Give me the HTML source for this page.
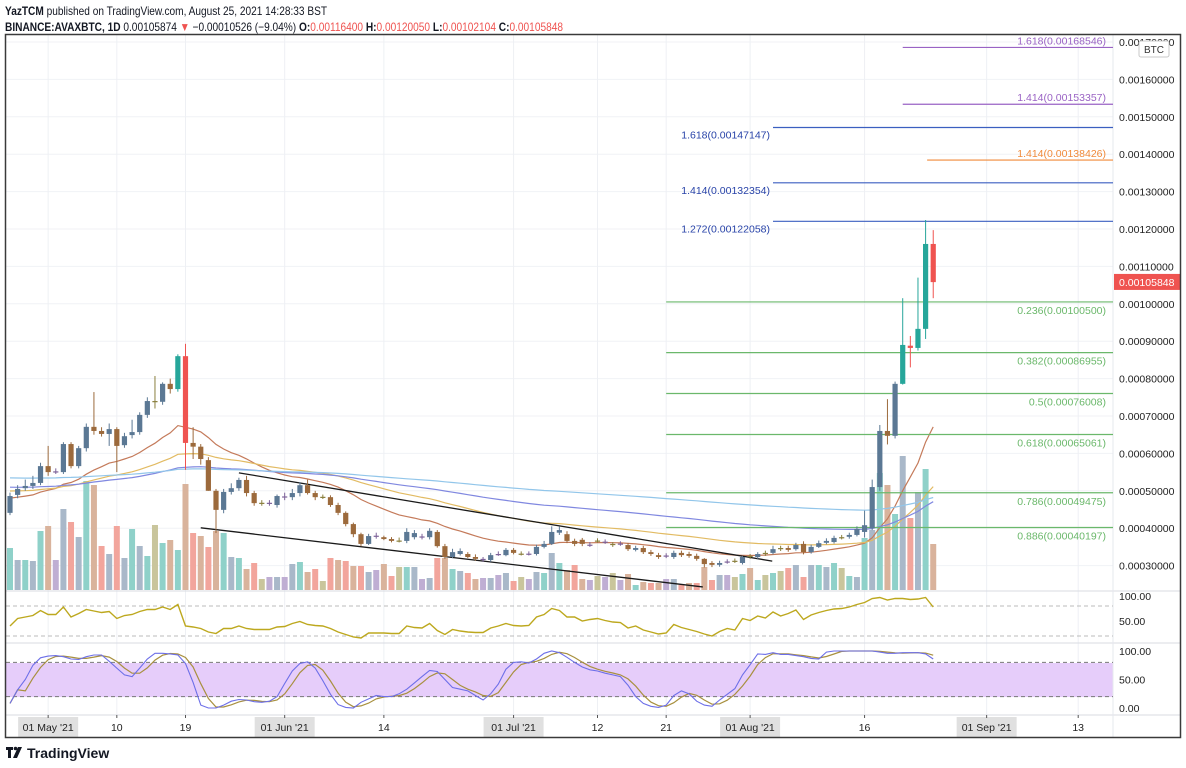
<!DOCTYPE html>
<html><head><meta charset="utf-8">
<style>
html,body{margin:0;padding:0;background:#fff;}
svg{display:block;font-family:"Liberation Sans",sans-serif;}
</style></head>
<body>
<svg id="chart" width="1186" height="768" viewBox="0 0 1186 768" xmlns="http://www.w3.org/2000/svg">
  <rect x="0" y="0" width="1186" height="768" fill="#ffffff"/>
  <text x="5" y="15" font-size="12" fill="#131722" textLength="322" lengthAdjust="spacingAndGlyphs"><tspan font-weight="bold">YazTCM</tspan> published on TradingView.com, August 25, 2021 14:28:33 BST</text>
  <text x="5" y="31" font-size="12" fill="#131722" textLength="558" lengthAdjust="spacingAndGlyphs"><tspan font-weight="bold">BINANCE:AVAXBTC, 1D</tspan> 0.00105874 <tspan fill="#ef5350">▼</tspan> −0.00010526 (−9.04%) <tspan font-weight="bold">O:</tspan><tspan fill="#ef5350">0.00116400</tspan> <tspan font-weight="bold">H:</tspan><tspan fill="#ef5350">0.00120050</tspan> <tspan font-weight="bold">L:</tspan><tspan fill="#ef5350">0.00102104</tspan> <tspan font-weight="bold">C:</tspan><tspan fill="#ef5350">0.00105848</tspan></text>
  <g id="grid"></g>
  <rect x="5" y="663" width="1108" height="34" fill="#e6cdfa"/>
  <g id="panes"></g>
  <g id="volume"></g>
  <g id="mas"></g>
  <g id="fibs"></g>
  <g id="trend"></g>
  <g id="candles"></g>
  <g id="osc"></g>
  <g id="axes"></g>
  <rect x="5.5" y="34.5" width="1175" height="703" fill="none" stroke="#3a3a3a" stroke-width="1.5"/>
  <g>
    <rect x="6" y="747" width="7" height="3" fill="#131722"/>
    <rect x="8" y="747" width="3" height="11" fill="#131722"/>
    <circle cx="15.5" cy="748.5" r="1.8" fill="#131722"/>
    <polygon points="18,747 22,747 17,758 13,758" fill="#131722"/>
    <text x="27" y="758" font-size="14" font-weight="bold" fill="#131722">TradingView</text>
  </g>
</svg>
<script>
// ---- data (price in units of 1e-5 BTC) ----
const opens = [44.1,48.9,50.7,51.3,52.1,56.6,55.0,55.0,62.5,56.6,61.4,67.1,66.0,65.2,66.5,62.2,64.9,65.7,70.3,73.8,73.8,78.6,77.2,86.0,62.8,61.8,58.2,50.0,44.9,49.7,50.7,52.9,49.4,46.7,46.7,46.2,48.3,48.3,49.4,51.5,49.4,48.3,48.3,46.2,44.1,41.1,38.4,35.8,37.9,37.6,37.1,36.6,36.6,37.6,37.7,37.6,39.0,35.2,32.3,33.1,33.1,32.3,31.8,31.5,33.0,32.8,34.2,33.1,33.1,33.1,35.0,35.8,38.8,38.4,36.6,36.9,35.5,36.6,36.3,35.8,35.8,35.5,34.2,34.7,33.6,32.8,32.6,32.3,33.4,33.1,32.6,31.8,30.7,30.2,31.0,31.2,30.7,32.6,32.3,33.1,33.4,34.7,34.7,34.4,35.8,33.6,35.0,36.1,36.3,37.4,37.7,38.2,39.0,40.0,51.0,66.0,64.7,78.6,88.8,88.2,93.3,116.0];
const closes = [48.6,50.5,51.3,52.1,56.6,55.0,55.2,62.5,56.6,61.4,67.1,66.0,65.2,66.5,62.0,64.6,65.7,70.3,74.0,74.0,78.6,77.2,86.0,62.8,61.8,58.5,50.0,44.9,49.7,50.7,52.9,49.4,46.7,46.8,46.8,48.6,48.5,49.4,51.5,49.4,48.3,48.4,46.2,44.1,41.1,38.4,35.8,37.9,38.0,37.1,36.6,36.7,39.0,38.7,37.8,39.3,35.2,32.3,33.6,33.9,32.3,31.8,31.5,32.8,33.1,34.2,33.4,33.2,33.2,35.0,35.8,39.0,39.5,36.6,35.8,35.8,35.6,36.7,36.4,35.5,35.9,34.4,34.7,33.6,33.1,32.3,32.7,33.4,32.8,32.6,31.8,30.4,30.2,30.7,31.1,31.3,32.3,32.3,33.1,33.4,34.4,34.5,34.2,35.5,33.6,35.0,36.0,36.6,37.4,37.6,38.2,39.8,40.8,51.0,66.0,64.7,78.6,89.0,88.2,93.3,116.0,105.8];
const highs = [49.5,51.5,53,54,57.5,62,56,63,63,62,68,76.4,67,68,67,65.5,69,71,75,80.7,79,80,86.5,89.3,67,62.5,59,50.5,50.5,52,53.5,54,50,47.5,47.5,49,49.5,50.5,52.3,53,50,49,48.8,46.8,44.5,41.5,38.8,38.5,38.8,38,37.6,37.5,40,39.5,38.5,40,39.5,35.8,34.5,34.6,33.6,33,32.3,33.4,33.8,34.7,34.7,33.8,33.8,35.6,36.6,40.5,40.4,39.2,37.2,37.4,36.3,37.3,37,36.3,36.5,36,35.3,35.3,34.2,33.4,33.3,34,34,33.7,33.2,32,31.2,31.3,31.7,31.9,32.6,33.1,33.6,34,35.3,35.3,35.3,36.1,36.5,35.6,36.7,37.3,38,38.2,38.8,40.5,44.7,53,67.6,74.5,79.2,101.5,91.4,107,122.4,119.7];
const lows = [43.5,48,50,50.5,51.5,54,54.5,54.5,56,56,60.5,65,64.5,62,55,61.5,64,65,69.5,72,73,76,76.5,55.6,58.5,57,50,38.7,44,49,50,48.5,46,46,46,45.5,47.5,47.5,48.5,49,47.5,47.8,45.7,43.5,40.5,37.6,35.2,35.5,37.2,36.8,36.2,36.2,36,37,37,37,34.8,31.8,32,32.7,32,31.3,31,31,32.6,32.5,33,32.7,32.7,32.7,34.6,35.5,38.2,36,35.2,35.2,35,36.1,35.8,35,35.3,33.9,33.8,33.1,32.6,31.8,32,31.8,32.3,32.1,31.3,29.5,29.6,29.7,30.5,30.7,30.3,31.8,31.8,32.6,33,33.9,33.7,34,33,33.2,34.7,35.7,35.9,37,37.2,37.8,37.5,39.5,50,62.4,64,78.4,83,87.5,90.6,101.5];
const volumes = [42,30,30,29,59,64,30,81,68,53,109,105,44,36,64,32,61,44,34,65,47,50,40,106,57,54,43,59,57,33,32,21,27,11,13,13,13,26,28,18,21,9,32,30,29,24,24,18,20,26,14,23,23,23,11,12,32,32,21,19,17,11,12,12,15,17,9,13,11,18,17,37,27,20,25,11,10,14,13,17,10,16,5,8,7,7,11,11,5,7,7,23,10,15,15,13,16,22,10,15,17,19,22,25,13,25,25,23,27,22,14,13,52,60,117,105,76,134,72,98,121,46];
const rsiValues = [40,55,58,61,71,63,63,78,58,65,73,70,67,69,55,61,63,69,73,73,78,73,83,40,38,35,28,25,35,35,40,35,33,33,33,38,39,45,49,43,41,40,35,28,23,18,16,26,26,26,25,25,40,37,36,45,31,23,33,30,28,27,27,36,40,45,41,40,41,58,63,75,71,58,58,50,53,55,51,48,47,36,40,32,28,24,26,43,37,33,29,24,20,29,35,32,55,51,60,56,68,60,65,72,53,62,67,71,74,75,78,83,87,95,97,92,95,95,93,94,97,78];
const stochK = [8,32,50,75,88,91,92,90,86,85,90,93,93,82,70,58,55,70,86,96,96,95,93,78,45,5,0,0,5,12,15,14,11,10,12,20,43,65,78,81,70,48,24,6,1,0,10,16,22,20,20,25,33,44,55,66,64,50,36,33,30,22,14,25,42,68,80,81,79,86,96,100,97,89,80,72,67,65,61,58,55,40,20,8,3,1,5,22,30,25,12,5,3,14,24,34,58,76,95,94,97,94,94,92,90,87,86,98,100,100,100,100,100,100,98,96,96,97,97,97,95,86];
const priceTicks = [30,40,50,60,70,80,90,100,110,120,130,140,150,160,170];
const priceTickLabels = ["0.00030000","0.00040000","0.00050000","0.00060000","0.00070000","0.00080000","0.00090000","0.00100000","0.00110000","0.00120000","0.00130000","0.00140000","0.00150000","0.00160000","0.00170000"];
const timeTickIdx = [5,14,23,36,49,66,77,86,97,112,128,140];
const timeTickLabels = ["01 May '21","10","19","01 Jun '21","14","01 Jul '21","12","21","01 Aug '21","16","01 Sep '21","13"];
const fibRatios = ["0.236","0.382","0.5","0.618","0.786","0.886","1.272","1.414","1.618","1.414","1.414","1.618"];
const fibValues = [100.500,86.955,76.008,65.061,49.475,40.197,122.058,132.354,147.147,138.426,153.357,168.546];
const fibGroups = ["g","g","g","g","g","g","b","b","b","o","p","p"];
const fibStartIdx = [86,86,86,86,86,86,100,100,100,120.2,117,117];
const upperTrend = [[30,54.8],[99.9,31.2]];
const lowerTrend = [[25,40.1],[90.8,24.3]];
const emaPeriods = [20,50,100,200];
const emaSeeds = [48,50,51,53.5];
const lastPrice = 105.848;

// ---- axis functions ----
const NS = "http://www.w3.org/2000/svg";
function xAt(i){ return 10 + i*7.63; }
function py(v){ return 229 + (120 - v)*3.74; }
function ry(v){ return 621 - (v-50)*0.5; }
function sy(v){ return 708 - v*0.57; }
function vy(v){ return 590 - v; }
function mk(tag, attrs, parent){ const e=document.createElementNS(NS,tag); for(const k in attrs) e.setAttribute(k,attrs[k]); parent.appendChild(e); return e; }
const G = id=>document.getElementById(id);
const RIGHT = 1113;

// grid
const grid = G('grid');
priceTicks.forEach((t,k)=>{
  const l = mk('line',{x1:6,x2:RIGHT,y1:py(t),y2:py(t),stroke:'#f0f2f6','stroke-width':1},grid);
  
  
});
timeTickIdx.forEach(i=>{
  const l = mk('line',{x1:xAt(i),x2:xAt(i),y1:35,y2:715,stroke:'#eef0f4','stroke-width':1},grid);
  
  
});
[596,621,646].forEach(y=>{});

// panes
const panes = G('panes');
[[591,'rsi-pane-separator'],[643,'stoch-pane-separator'],[715,'time-axis-line']].forEach(([y,n])=>{
  const l = mk('line',{x1:6,x2:1180,y1:y,y2:y,stroke:'#d8dbe2','stroke-width':1},panes);
  
  
});
const sep = mk('line',{x1:RIGHT,x2:RIGHT,y1:35,y2:737,stroke:'#e6e8ee','stroke-width':1},panes);


[[ry(80)],[ry(20)],[sy(80)],[sy(20)]].forEach(([y],k)=>{
  const l = mk('line',{x1:6,x2:RIGHT,y1:y,y2:y,stroke:k<2?'#bbbbbb':'#777777','stroke-width':1,'stroke-dasharray':'4,3'},panes);
  
  
});

// volume
const vol = G('volume');
volumes.forEach((v,i)=>{
  const bull = closes[i] > opens[i] + 0.3, bear = closes[i] < opens[i] - 0.3;
  const pal = bull ? ['#8fd1c9','#a9b8c9'] : bear ? ['#f2a59c','#d9b39c'] : ['#bfaed3','#c9c59c'];
  const r = mk('rect',{x:xAt(i)-3,y:vy(v),width:6,height:v,fill:pal[i%2]},vol);
  
  
});

// EMAs
const mas = G('mas');
const emaColors = ['#c47a5a','#e2bb63','#8088e0','#92c6ea'];
const emaNames = ['ema-20-line','ema-50-line','ema-100-line','ema-200-line'];
emaPeriods.forEach((p,k)=>{
  let e = emaSeeds[k], pts=[];
  const a = 2/(p+1);
  closes.forEach((c,i)=>{ e = e + (c-e)*a; pts.push(xAt(i).toFixed(1)+','+py(e).toFixed(1)); });
  const pl = mk('polyline',{points:pts.join(' '),fill:'none',stroke:emaColors[k],'stroke-width':1.2},mas);
  
  
});

// fibs
const fibs = G('fibs');
const fibCol = {g:'#6bb86b',b:'#3b5fc0',o:'#f08a3a',p:'#9a63c4'};
fibValues.forEach((v,k)=>{
  const y = py(v), g = fibGroups[k], x0 = xAt(fibStartIdx[k]);
  const l = mk('line',{x1:x0,x2:RIGHT,y1:y,y2:y,stroke:fibCol[g],'stroke-width':1.2},fibs);
  
  
  let tx, ty, anchor;
  if(g==='g'){ tx=1106; ty=y+12; anchor='end'; }
  else if(g==='b'){ tx=x0-3; ty=y+11; anchor='end'; }
  else { tx=1106; ty=y-3; anchor='end'; }
  const t = mk('text',{x:tx,y:ty,'font-size':10.5,fill:g==='b'?'#2843a8':fibCol[g],'text-anchor':anchor},fibs);
  t.textContent = fibRatios[k]+'(0.00'+(v*1000).toFixed(0).padStart(6,'0')+')';
  
  
});

// trendlines
const tr = G('trend');
[[upperTrend,'upper-trendline'],[lowerTrend,'lower-trendline']].forEach(([seg,n])=>{
  const l = mk('line',{x1:xAt(seg[0][0]),y1:py(seg[0][1]),x2:xAt(seg[1][0]),y2:py(seg[1][1]),stroke:'#1a1a1a','stroke-width':1.3},tr);
  
  
});

// candles
const cg = G('candles');
const tealIdx = [22,117,119,120], redIdx = [23,118,121];
opens.forEach((o,i)=>{
  const c = closes[i], x = xAt(i);
  let col;
  if(tealIdx.includes(i)) col='#26a69a';
  else if(redIdx.includes(i)) col='#ef5350';
  else if(Math.abs(c-o)<0.4) col = i%2 ? '#8a7f3d' : '#7d6299';
  else col = c>o ? '#5b7894' : '#9c6a3c';
  const wick = mk('line',{x1:x,x2:x,y1:py(highs[i]),y2:py(lows[i]),stroke:col,'stroke-width':1},cg);
  
  
  const top = py(Math.max(o,c)), bot = py(Math.min(o,c));
  const b = mk('rect',{x:x-2.6,y:top,width:5.2,height:Math.max(1.2,bot-top),fill:col},cg);
  
  
});

// oscillators
const osc = G('osc');
const rp = rsiValues.map((v,i)=>xAt(i).toFixed(1)+','+ry(v).toFixed(1)).join(' ');
const rl = mk('polyline',{points:rp,fill:'none',stroke:'#bda81e','stroke-width':1.4},osc);


const stochD = stochK.map((v,i)=> i<2 ? v : (stochK[i]+stochK[i-1]+stochK[i-2])/3);
const dl = mk('polyline',{points:stochD.map((v,i)=>xAt(i).toFixed(1)+','+sy(v).toFixed(1)).join(' '),fill:'none',stroke:'#a8903f','stroke-width':1.2},osc);


const kl = mk('polyline',{points:stochK.map((v,i)=>xAt(i).toFixed(1)+','+sy(v).toFixed(1)).join(' '),fill:'none',stroke:'#6d6fe8','stroke-width':1.1},osc);



// axes
const ax = G('axes');
priceTicks.forEach((t,k)=>{
  const tx = mk('text',{x:1119,y:py(t)+4,'font-size':10.5,fill:'#222'},ax);
  tx.textContent = priceTickLabels[k];
  
  
});
const bx = mk('rect',{x:1139,y:41,width:30,height:16,fill:'#fff',stroke:'#c8c8c8',rx:2},ax);


const bt = mk('text',{x:1154,y:53,'font-size':10,fill:'#333','text-anchor':'middle'},ax);
bt.textContent='BTC';


const lp = mk('rect',{x:1114,y:py(lastPrice)-8,width:66,height:16,fill:'#ef5350'},ax);


const lpt = mk('text',{x:1119,y:py(lastPrice)+4,'font-size':10.5,fill:'#fff'},ax);
lpt.textContent = '0.00'+(lastPrice*1000).toFixed(0);


[[ry(100),'100.00'],[ry(50),'50.00']].forEach(([y,s])=>{
  const t = mk('text',{x:1119,y:y+4,'font-size':10.5,fill:'#222'},ax);
  t.textContent=s;
  
  
});
[[sy(100),'100.00'],[sy(50),'50.00'],[sy(0),'0.00']].forEach(([y,s])=>{
  const t = mk('text',{x:1119,y:y+4,'font-size':10.5,fill:'#222'},ax);
  t.textContent=s;
  
  
});
timeTickIdx.forEach((i,k)=>{
  const x = xAt(i), s = timeTickLabels[k];
  if(s.length>3){
    const r = mk('rect',{x:x-30,y:717,width:60,height:20,fill:'#e0e0e0'},ax);
    
    
  }
  const tk = mk('line',{x1:x,x2:x,y1:715,y2:718,stroke:'#555'},ax);
  
  
  const t = mk('text',{x:x,y:731,'font-size':10.5,fill:'#222','text-anchor':'middle'},ax);
  t.textContent = s;
  
  
});
</script>
</body></html>
